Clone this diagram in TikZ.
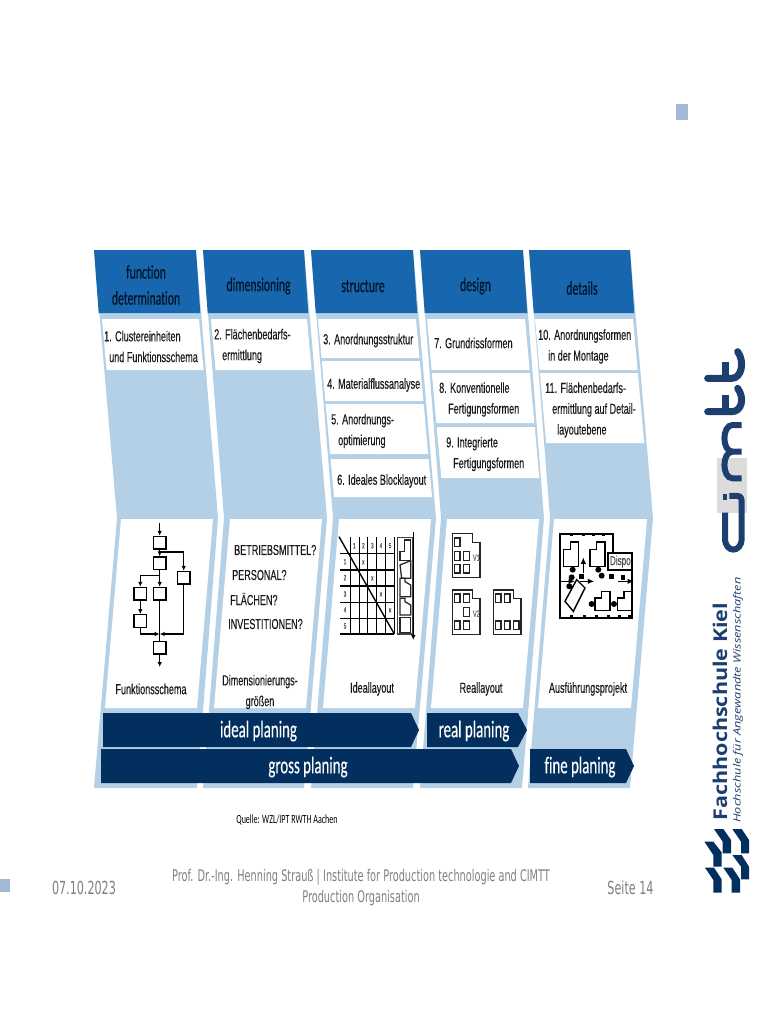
\documentclass[tikz,border=0pt]{standalone}
\usepackage{fontspec}
\usepackage{graphicx}
\newfontfamily\bodyf[FakeStretch=0.625,FakeBold=0.25]{Liberation Sans}
\newfontfamily\headf[FakeStretch=0.6,FakeBold=0.4,Ligatures=NoCommon]{Carlito}
\newfontfamily\barf[FakeStretch=0.62,FakeBold=0.2,Ligatures=NoCommon]{Carlito}
\newfontfamily\footf[FakeStretch=0.62]{DejaVu Sans}
\newfontfamily\footmidf[FakeStretch=0.61]{DejaVu Sans}
\newfontfamily\srcf[FakeStretch=0.64,Ligatures=NoCommon]{Carlito}
\newfontfamily\logonamef[FakeStretch=1.13]{Open Sans}
\newfontfamily\logosubf[FakeStretch=1.27]{Open Sans}
\usetikzlibrary{arrows.meta}
\definecolor{headblue}{HTML}{1766AE}
\definecolor{lightblue}{HTML}{B3D0E6}
\definecolor{navybar}{HTML}{022F5E}
\definecolor{squarec}{HTML}{A3B8D2}
\definecolor{logonavy}{HTML}{1C3F70}
\definecolor{logogray}{HTML}{DCDCDC}
\definecolor{textdark}{HTML}{1A1A1A}
\definecolor{headtext}{HTML}{031629}
\definecolor{footgray}{HTML}{808080}
\tikzset{
  bodytext/.style={inner sep=0pt,text=textdark,font=\bodyf\fontsize{14.5}{20.8}\selectfont,align=left,anchor=west},
  captext/.style={inner sep=0pt,text=textdark,font=\bodyf\fontsize{14.5}{20.8}\selectfont,align=center},
  headtextst/.style={inner sep=0pt,text=headtext,font=\headf\fontsize{19.5}{26}\selectfont,align=center},
  bartext/.style={inner sep=0pt,text=white,font=\barf\fontsize{24}{26}\selectfont},
  foottext/.style={inner sep=0pt,text=footgray,font=\footf\fontsize{18}{21}\selectfont,align=center},
  footmid/.style={inner sep=0pt,text=footgray,font=\footmidf\fontsize{16}{21}\selectfont,align=center},
  fbox/.style={draw=black,line width=1.3pt,fill=white,minimum width=12.5pt,minimum height=12.5pt,inner sep=0pt},
  farrow/.style={line width=1.2pt,-{Latex[length=5pt,width=4.5pt]}},
  fline/.style={line width=1.2pt},
  ttick/.style={inner sep=0pt,text=black!70,font=\bodyf\fontsize{7.5}{8}\selectfont},
  rshape/.style={draw=black!85,line width=1.3pt,fill=white},
  rsq/.style={draw=black!85,line width=1.3pt},
  pshape/.style={draw=black,line width=1.4pt,fill=white},
  parrow/.style={line width=1.4pt,-{Latex[length=6.5pt,width=5.5pt]}},
  logostroke/.style={draw=logonavy,line width=7pt,line cap=butt},
  logothin/.style={draw=logonavy,line width=6pt,line cap=butt},
}
\newcommand{\columnshape}[6]{%
  \fill[lightblue] (#1,250) -- (#2,250) -- (#4,518) -- (#6,788) -- (#5,788) -- (#3,518) -- cycle;
  \fill[headblue] (#1,250) -- (#2,250) -- ({#2+4.3},313) -- ({#1+4.7},313) -- cycle;
}
\newcommand{\upperbox}[4]{%
  \fill[white] ({#1+0.09*(#3-319)},#3) -- ({#2+0.09*(#3-319)},#3) -- ({#2+0.09*(#4-319)},#4) -- ({#1+0.09*(#4-319)},#4) -- cycle;
}
\newcommand{\lowerbox}[2]{%
  \fill[white] (#1,519) -- (#2,519) -- ({#2-16},708) -- ({#1-16},708) -- cycle;
}
\newcommand{\planbar}[5]{%
  \fill[navybar] (#1,#4) -- (#3,#4) -- (#2,{(#4+#5)/2}) -- (#3,#5) -- (#1,#5) -- cycle;
}
\begin{document}
\begin{tikzpicture}[x=1pt,y=-1pt]
\useasboundingbox (0,0) rectangle (768,1024);
\fill[white] (0,0) rectangle (768,1024);
\fill[squarec] (676,104) rectangle (688,120);
\fill[squarec] (0,879) rectangle (10,892);

\columnshape{94}{196}{117}{218}{94}{197}
\columnshape{203}{304}{224}{327}{203}{304}
\columnshape{311}{413}{333}{436}{311}{413}
\columnshape{420}{523}{441}{544}{420}{522}
\columnshape{529}{630}{550}{653}{528}{630}

\upperbox{102}{199}{319}{370}
\upperbox{211}{307}{319}{370}
\upperbox{318}{416}{319}{358}
\upperbox{318}{416}{361}{401}
\upperbox{318}{416}{404}{454}
\upperbox{318}{416}{459}{497}
\upperbox{427}{525}{319}{370}
\upperbox{427}{525}{373}{423}
\upperbox{427}{525}{427}{478}
\upperbox{535}{633}{319}{370}
\upperbox{535}{633}{373}{443}

\lowerbox{121}{213}
\lowerbox{230}{322}
\lowerbox{339}{431}
\lowerbox{447}{539}
\lowerbox{554}{647}

\planbar{103}{419}{411}{713}{747}
\planbar{427}{527}{518}{713}{747}
\planbar{101}{519}{511}{749}{783}
\planbar{530}{634}{626}{749}{783}

% headers
\node[headtextst] (h1) at (146,285) {function\\determination};
\node[headtextst] (h2) at (258.5,286) {dimensioning};
\node[headtextst] (h3) at (363,286) {structure};
\node[headtextst] (h4) at (475.5,286) {design};
\node[headtextst] (h5) at (582,288) {details};

% steps
\node[bodytext] (s1) at (104,346.5) {1. Clustereinheiten\\\hspace*{5pt}und Funktionsschema};
\node[bodytext] (s2) at (214,346) {2. Flächenbedarfs-\\\hspace*{8pt}ermittlung};
\node[bodytext] (s3) at (323,340.5) {3. Anordnungsstruktur};
\node[bodytext] (s4) at (327,385) {4. Materialflussanalyse};
\node[bodytext] (s5) at (331,431) {5. Anordnungs-\\\hspace*{7pt}optimierung};
\node[bodytext] (s6) at (337,481) {6. Ideales Blocklayout};
\node[bodytext] (s7) at (434,343) {7. Grundrissformen};
\node[bodytext] (s8) at (439,399.5) {8. Konventionelle\\\hspace*{9pt}Fertigungsformen};
\node[bodytext] (s9) at (446,454) {9. Integrierte\\\hspace*{7pt}Fertigungsformen};
\node[bodytext] (s10) at (538,346.5) {10. Anordnungsformen\\\hspace*{10pt}in der Montage};
\node[bodytext] (s11) at (545,410) {11. Flächenbedarfs-\\\hspace*{7pt}ermittlung auf Detail-\\\hspace*{12pt}layoutebene};

% captions
\node[captext] (c1) at (151,689) {Funktionsschema};
\node[captext] (c2) at (260,692) {Dimensionierungs-\\größen};
\node[captext] (c3) at (372,689) {Ideallayout};
\node[captext] (c4) at (481,689) {Reallayout};
\node[captext] (c5) at (588,689) {Ausführungsprojekt};

% questions
\node[bodytext] (q1) at (234,550) {BETRIEBSMITTEL?};
\node[bodytext] (q2) at (232,575) {PERSONAL?};
\node[bodytext] (q3) at (230,599) {FLÄCHEN?};
\node[bodytext] (q4) at (228,624) {INVESTITIONEN?};

% bars
\node[bartext] (b1) at (258.5,731) {ideal planing};
\node[bartext] (b2) at (474,731) {real planing};
\node[bartext] (b3) at (308,767) {gross planing};
\node[bartext] (b4) at (580,767) {fine planing};

% flow chart
\node[fbox] (fa) at (159.7,542.7) {};
\node[fbox] (fb) at (159.7,563.3) {};
\node[fbox] (fc) at (183.7,577.7) {};
\node[fbox] (fd) at (140.3,593.7) {};
\node[fbox] (fe) at (159.7,593.7) {};
\node[fbox] (ff) at (140.3,621) {};
\node[fbox] (fg) at (159.7,647.7) {};
\coordinate (fin) at (159.7,523);
\coordinate (fout) at (159.7,667);
\coordinate (jab) at (159.7,552);
\coordinate (jac) at (183.7,552);
\coordinate (jbd) at (140.3,575.5);
\coordinate (jbe) at (159.7,575.5);
\coordinate (jfl) at (140.3,634);
\coordinate (jcr) at (183.7,634);
\coordinate (jm) at (159.7,634);
\draw[farrow] (fin) -- (fa);
\draw[farrow] (fa) -- (fb);
\draw[farrow] (jab) -- (jac) -- (fc);
\draw[fline] (fb) -- (jbe);
\draw[farrow] (jbe) -- (jbd) -- (fd);
\draw[farrow] (jbe) -- (fe);
\draw[farrow] (fd) -- (ff);
\draw[farrow] (ff) -- (jfl) -- (jm);
\draw[farrow] (fc) -- (jcr) -- (jm);
\draw[fline] (fe) -- (jm);
\draw[fline] (jm) -- (fg);
\draw[farrow] (fg) -- (fout);

% ideal layout grid
\begin{scope}[shift={(335,530)},x=0.3333pt,y=-0.3333pt]
  \foreach \yy in {70,120,168,218,265,312} \draw[line width=1.2pt] (15,\yy) -- (178,\yy);
  \foreach \xx in {45,72,98,125,152,178} \draw[line width=1pt] (\xx,22) -- (\xx,312);
  \draw[line width=1.4pt] (12,20) -- (178,312);
  \foreach \n/\xx in {1/58,2/85,3/112,4/138,5/165} \node[ttick] (gt\n) at (\xx,47) {\n};
  \foreach \n/\yy in {1/95,2/143,3/192,4/240,5/288} \node[ttick] (gl\n) at (30,\yy) {\n};
  \foreach \n/\xx/\yy in {1/85/97,2/112/145,3/138/193,4/165/241} \node[ttick] (gx\n) at (\xx,\yy) {x};
  \draw[line width=1.2pt,draw=black!75] (188,22) rectangle (232,312);
  \draw[rshape] (195,65) -- (208,65) -- (208,30) -- (227,30) -- (227,92) -- (195,92) -- cycle;
  \draw[rshape] (195,105) -- (227,92) -- (227,145) -- (200,145) -- cycle;
  \draw[rshape] (195,145) -- (210,145) -- (210,155) -- (227,165) -- (227,200) -- (195,200) -- cycle;
  \draw[rshape] (195,205) -- (210,205) -- (210,215) -- (227,225) -- (227,255) -- (195,255) -- cycle;
  \draw[rshape] (195,262) rectangle (227,307);
  \coordinate (gs) at (235,5);
  \coordinate (ge) at (235,330);
  \draw[line width=.9pt,-{Latex[length=5pt,width=4.5pt]}] (gs) -- (ge);
\end{scope}

% real layout
\begin{scope}[shift={(370,510)},x=0.3333pt,y=-0.3333pt]
  \draw[rshape] (247,70) -- (308,70) -- (308,97) -- (330,97) -- (330,203) -- (247,203) -- cycle;
  \foreach \xx/\yy in {253/84,253/125,281/125,253/163,281/163} \draw[rsq] (\xx,\yy) rectangle +(17,26);
  \draw[rshape] (247,240) -- (308,240) -- (308,265) -- (330,265) -- (330,373) -- (247,373) -- cycle;
  \foreach \xx/\yy in {253/252,281/252,281/293,253/333,281/333} \draw[rsq] (\xx,\yy) rectangle +(17,26);
  \draw[rshape] (370,240) -- (431,240) -- (431,265) -- (453,265) -- (453,373) -- (370,373) -- cycle;
  \foreach \xx/\yy in {377/252,404/252,377/333,404/333,431/333} \draw[rsq] (\xx,\yy) rectangle +(16,26);
  \node[ttick,text=black!55,font=\bodyf\fontsize{9}{10}\selectfont] (v1) at (319,143) {V1};
  \node[ttick,text=black!55,font=\bodyf\fontsize{9}{10}\selectfont] (v2) at (319,311) {V2};
\end{scope}

% detail layout
\begin{scope}[shift={(550,528)},x=0.3333pt,y=-0.3333pt]
  \draw[line width=1.8pt] (190,72) -- (190,18) -- (30,18) -- (30,270) -- (247,270) -- (247,125);
  \foreach \xx in {60,95,125,155} \fill[black] (\xx,14) rectangle +(10,10);
  \foreach \xx in {60,100,135,170,205,235} \fill[black] (\xx,262) rectangle +(9,10);
  \draw[line width=2pt,fill=white] (175,75) rectangle (247,125);
  \node[inner sep=0pt,text=black!70,font=\bodyf\fontsize{13}{14}\selectfont] (dispo) at (211,101) {Dispo};
  \draw[pshape] (40,65) -- (62,65) -- (62,42) -- (85,42) -- (85,115) -- (40,115) -- cycle;
  \draw[pshape] (120,65) -- (140,65) -- (140,42) -- (165,42) -- (165,115) -- (120,115) -- cycle;
  \draw[pshape] (135,210) -- (155,210) -- (155,190) -- (180,190) -- (180,248) -- (135,248) -- cycle;
  \draw[pshape] (202,210) -- (222,210) -- (222,190) -- (245,190) -- (245,248) -- (202,248) -- cycle;
  \draw[pshape] (45,220) -- (80,155) -- (105,180) -- (70,250) -- cycle;
  \coordinate (p1s) at (30,160); \coordinate (p1e) at (75,160);
  \coordinate (p2s) at (90,160); \coordinate (p2e) at (133,160);
  \coordinate (p3s) at (205,160); \coordinate (p3e) at (252,160);
  \coordinate (p4s) at (100,135); \coordinate (p4e) at (100,88);
  \draw[parrow] (p1s) -- (p1e);
  \draw[parrow] (p2s) -- (p2e);
  \draw[parrow] (p3s) -- (p3e);
  \draw[parrow] (p4s) -- (p4e);
  \foreach \xx/\yy in {68/125,145/125,65/148,155/143,125/228,192/228,58/175} \fill[black] (\xx,\yy) circle (3pt);
  \foreach \xx/\yy in {88/138,178/138,212/140} \fill[black] (\xx,\yy) rectangle +(14,16);
\end{scope}

% source and footer
\node[inner sep=0pt,text=black,font=\srcf\fontsize{12.5}{14}\selectfont] (src) at (287,820) {Quelle: WZL/IPT RWTH Aachen};
\node[foottext] (fdate) at (84,888) {07.10.2023};
\node[footmid] (fmid) at (361,887.5) {Prof. Dr.-Ing. Henning Strauß | Institute for Production technologie and CIMTT\\Production Organisation};
\node[foottext] (fpage) at (630.5,888) {Seite 14};

% cimtt logo
\fill[logogray] (717,458) rectangle (747,513);
\begin{scope}[shift={(695,340)},x=0.3333pt,y=-0.3333pt]
  \draw[logostroke,line cap=round] (128,35) .. controls (150,65) and (140,115) .. (110,115) -- (38,115);
  \draw[logostroke] (90,65) -- (90,115);
  \draw[logostroke,line cap=round] (128,145) .. controls (150,175) and (140,215) .. (110,215) -- (38,215);
  \draw[logostroke] (90,165) -- (90,215);
\end{scope}
\begin{scope}[shift={(700,410)},x=0.3333pt,y=-0.3333pt]
  \draw[logothin] (125,45) -- (98,45) .. controls (65,45) and (65,125) .. (98,125) -- (125,125);
  \draw[logothin] (98,125) .. controls (65,125) and (65,205) .. (98,205) -- (125,205);
  \draw[logothin] (68,262) -- (80,262);
  \draw[logothin] (88,258) -- (112,258) .. controls (122,258) and (125,265) .. (125,275) -- (125,385) .. controls (125,430) and (75,430) .. (75,385) -- (75,308);
\end{scope}

% FH logo
\node[inner sep=0pt,rotate=90,anchor=center,text=logonavy,font=\logonamef\bfseries\fontsize{19}{21}\selectfont] (fhname) at (720,711.5) {Fachhochschule Kiel};
\node[inner sep=0pt,rotate=90,anchor=center,text=logonavy,font=\logosubf\itshape\fontsize{10}{12}\selectfont] (fhsub) at (738,700) {Hochschule für Angewandte Wissenschaften};
\begin{scope}[shift={(695,820)},x=0.3333pt,y=-0.3333pt]
  \fill[navybar] (57,27) -- (85,27) -- (108,60) -- (108,100) -- (83,100) -- (83,65) -- cycle;
  \fill[navybar] (112,27) -- (140,27) -- (162,60) -- (162,100) -- (138,100) -- (138,65) -- cycle;
  \fill[navybar] (28,65) -- (55,65) -- (80,97) -- (80,140) -- (55,140) -- (55,105) -- cycle;
  \fill[navybar] (112,105) -- (140,105) -- (162,140) -- (162,178) -- (138,178) -- (138,140) -- cycle;
  \fill[navybar] (30,143) -- (57,143) -- (80,178) -- (80,218) -- (55,218) -- (55,180) -- cycle;
  \fill[navybar] (85,143) -- (112,143) -- (135,178) -- (135,218) -- (110,218) -- (110,180) -- cycle;
\end{scope}
\end{tikzpicture}
\end{document}
